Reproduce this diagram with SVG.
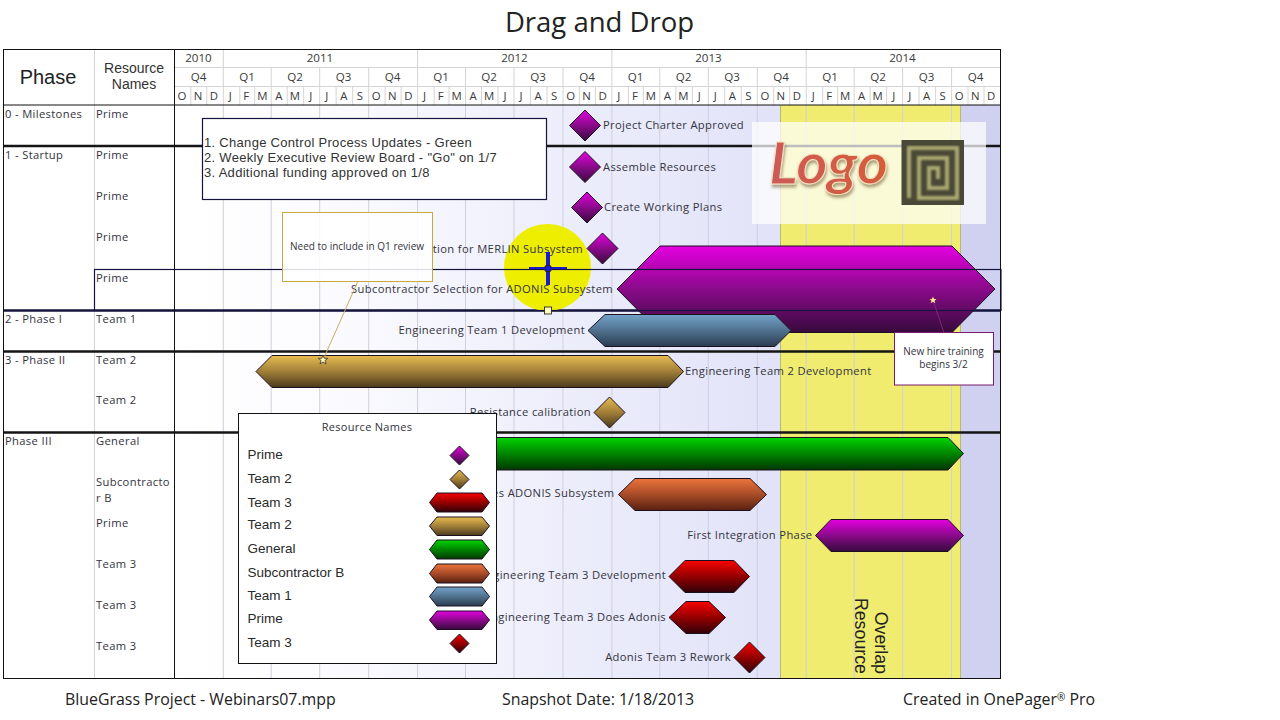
<svg xmlns="http://www.w3.org/2000/svg" width="1280" height="720" viewBox="0 0 1280 720">
<style>
text{font-family:"Open Sans","Noto Sans","Liberation Sans",sans-serif;fill:#333340}
.t{font-size:11.2px;letter-spacing:.35px}
.h{font-size:11.6px;text-anchor:middle;fill:#3a3a3a}
.m{font-size:11.4px;text-anchor:middle;fill:#3a3a3a}
.e{text-anchor:end}
.a{font-family:"Liberation Sans",Arial,sans-serif;fill:#222}
.f{font-size:15.9px;fill:#222}
.lg{font-family:"Liberation Sans",Arial,sans-serif;font-size:13.5px;fill:#2a2a2a}
.n{font-family:"Liberation Sans",Arial,sans-serif;font-size:13px;letter-spacing:.3px;fill:#333}
.s{stroke:#1c1020;stroke-width:1}
.grid{stroke:#cfcfdc;stroke-width:1;fill:none}
.head{stroke:#d4d4d4;stroke-width:1;fill:none}
.rule{stroke:#151515;stroke-width:2.6}
</style>
<defs>
<linearGradient id="bg" x1="0" x2="1" y1="0" y2="0"><stop offset="0" stop-color="#fff"/><stop offset=".17" stop-color="#fcfcff"/><stop offset=".55" stop-color="#e9eafa"/><stop offset="1" stop-color="#d6d8f5"/></linearGradient>
<linearGradient id="pu" x1="0" x2="0" y1="0" y2="1"><stop offset="0" stop-color="#e400e0"/><stop offset=".5" stop-color="#8a0a8a"/><stop offset="1" stop-color="#360a3c"/></linearGradient>
<linearGradient id="bl" x1="0" x2="0" y1="0" y2="1"><stop offset="0" stop-color="#72a2c8"/><stop offset=".5" stop-color="#50718e"/><stop offset="1" stop-color="#2a3c50"/></linearGradient>
<linearGradient id="go" x1="0" x2="0" y1="0" y2="1"><stop offset="0" stop-color="#e8bc50"/><stop offset=".5" stop-color="#a07e38"/><stop offset="1" stop-color="#4a3a1c"/></linearGradient>
<linearGradient id="gr" x1="0" x2="0" y1="0" y2="1"><stop offset="0" stop-color="#00d400"/><stop offset=".5" stop-color="#008400"/><stop offset="1" stop-color="#003800"/></linearGradient>
<linearGradient id="or" x1="0" x2="0" y1="0" y2="1"><stop offset="0" stop-color="#ec743c"/><stop offset=".5" stop-color="#a84c28"/><stop offset="1" stop-color="#582010"/></linearGradient>
<linearGradient id="re" x1="0" x2="0" y1="0" y2="1"><stop offset="0" stop-color="#f80000"/><stop offset=".5" stop-color="#940000"/><stop offset="1" stop-color="#300008"/></linearGradient>
<linearGradient id="lo" x1="0" x2="1" y1="0" y2="0"><stop offset="0" stop-color="#cc5a5a"/><stop offset="1" stop-color="#d65c38"/></linearGradient>
<filter id="sh" x="-20%" y="-20%" width="140%" height="150%"><feDropShadow dx="1" dy="3" stdDeviation="1.6" flood-color="#6a5a30" flood-opacity=".55"/></filter>
<filter id="bu" x="-5%" y="-5%" width="110%" height="110%"><feGaussianBlur stdDeviation="1.3"/></filter>
</defs>
<rect width="1280" height="720" fill="#fff"/>
<text x="599.500" y="32" font-size="27.500" text-anchor="middle" style="fill:#222" id="title">Drag and Drop</text>

<g id="chart-background">
<rect x="175" y="105" width="825" height="573" fill="url(#bg)"/>
<rect x="780.500" y="105" width="180" height="573" fill="#f0ec70"/>
<rect x="960.500" y="105" width="40" height="573" fill="#d0d1f1"/>
<path d="M780.500 105V678M960.500 105V678" stroke="#b8b878" fill="none"/>
<path class="grid" d="M223.300 105V678M271.200 105V678M319.700 105V678M368.700 105V678M417.600 105V678M465.500 105V678M514 105V678M563 105V678M611.900 105V678M659.800 105V678M708.300 105V678M757.300 105V678M806.200 105V678M854.100 105V678M902.600 105V678M951.600 105V678"/>
</g>

<g id="rows">
<path class="head" d="M94.500 49V678"/>
<path class="rule" d="M4 146H1001M4 351.500H1001M4 432.500H1001"/>
<path d="M4 310.500H1001" stroke="#14143c" stroke-width="2.600"/>
</g>

<g id="header">
<path class="head" d="M174.500 67.500H1000M174.500 86.500H1000M223.300 49V105M417.600 49V105M611.900 49V105M806.200 49V105"/>
<path class="head" d="M271.200 67V105M319.700 67V105M368.700 67V105M465.500 67V105M514 67V105M563 67V105M659.800 67V105M708.300 67V105M757.300 67V105M854.100 67V105M902.600 67V105M951.600 67V105"/>
<path class="head" d="M190.800 86V105M206.800 86V105M239.800 86V105M254.700 86V105M287.200 86V105M303.700 86V105M336.100 86V105M352.700 86V105M385.100 86V105M401.100 86V105M434.100 86V105M449 86V105M481.500 86V105M498 86V105M530.400 86V105M547 86V105M579.400 86V105M595.400 86V105M628.400 86V105M643.300 86V105M675.800 86V105M692.300 86V105M724.700 86V105M741.300 86V105M773.700 86V105M789.700 86V105M822.700 86V105M837.600 86V105M870.100 86V105M886.600 86V105M919 86V105M935.600 86V105M968 86V105M984 86V105"/>
<text class="a" x="48" y="84" font-size="20" text-anchor="middle">Phase</text>
<text class="a" x="134" y="73" font-size="14" text-anchor="middle" style="fill:#333">Resource</text>
<text class="a" x="134" y="88.500" font-size="14" text-anchor="middle" style="fill:#333">Names</text>
<text class="h" x="198.500" y="62">2010</text><text class="h" x="320" y="62">2011</text><text class="h" x="514.500" y="62">2012</text><text class="h" x="708.500" y="62">2013</text><text class="h" x="902.500" y="62">2014</text>
<text class="h" x="198.500" y="81">Q4</text><text class="h" x="247" y="81">Q1</text><text class="h" x="295" y="81">Q2</text><text class="h" x="343.500" y="81">Q3</text><text class="h" x="392.500" y="81">Q4</text>
<text class="h" x="441" y="81">Q1</text><text class="h" x="489" y="81">Q2</text><text class="h" x="538" y="81">Q3</text><text class="h" x="587" y="81">Q4</text>
<text class="h" x="635.500" y="81">Q1</text><text class="h" x="683.500" y="81">Q2</text><text class="h" x="732" y="81">Q3</text><text class="h" x="781" y="81">Q4</text>
<text class="h" x="830" y="81">Q1</text><text class="h" x="878" y="81">Q2</text><text class="h" x="926.500" y="81">Q3</text><text class="h" x="975.500" y="81">Q4</text>
<text class="m" x="182" y="100">O</text><text class="m" x="198" y="100">N</text><text class="m" x="214" y="100">D</text>
<text class="m" x="230.300" y="100">J</text><text class="m" x="246.300" y="100">F</text><text class="m" x="262.300" y="100">M</text><text class="m" x="278.800" y="100">A</text><text class="m" x="294.800" y="100">M</text><text class="m" x="310.800" y="100">J</text><text class="m" x="326.800" y="100">J</text><text class="m" x="343.800" y="100">A</text><text class="m" x="359.800" y="100">S</text><text class="m" x="376.300" y="100">O</text><text class="m" x="392.300" y="100">N</text><text class="m" x="408.300" y="100">D</text>
<text class="m" x="424.600" y="100">J</text><text class="m" x="440.600" y="100">F</text><text class="m" x="456.600" y="100">M</text><text class="m" x="473.100" y="100">A</text><text class="m" x="489.100" y="100">M</text><text class="m" x="505.100" y="100">J</text><text class="m" x="521.100" y="100">J</text><text class="m" x="538.100" y="100">A</text><text class="m" x="554.100" y="100">S</text><text class="m" x="570.600" y="100">O</text><text class="m" x="586.600" y="100">N</text><text class="m" x="602.600" y="100">D</text>
<text class="m" x="618.900" y="100">J</text><text class="m" x="634.900" y="100">F</text><text class="m" x="650.900" y="100">M</text><text class="m" x="667.400" y="100">A</text><text class="m" x="683.400" y="100">M</text><text class="m" x="699.400" y="100">J</text><text class="m" x="715.400" y="100">J</text><text class="m" x="732.400" y="100">A</text><text class="m" x="748.400" y="100">S</text><text class="m" x="764.900" y="100">O</text><text class="m" x="780.900" y="100">N</text><text class="m" x="796.900" y="100">D</text>
<text class="m" x="813.200" y="100">J</text><text class="m" x="829.200" y="100">F</text><text class="m" x="845.200" y="100">M</text><text class="m" x="861.700" y="100">A</text><text class="m" x="877.700" y="100">M</text><text class="m" x="893.700" y="100">J</text><text class="m" x="909.700" y="100">J</text><text class="m" x="926.700" y="100">A</text><text class="m" x="942.700" y="100">S</text><text class="m" x="959.200" y="100">O</text><text class="m" x="975.200" y="100">N</text><text class="m" x="991.200" y="100">D</text>
</g>

<g id="phase-labels">
<text class="t" x="5" y="118">0 - Milestones</text><text class="t" x="5" y="159">1 - Startup</text><text class="t" x="5" y="323">2 - Phase I</text><text class="t" x="5" y="364">3 - Phase II</text><text class="t" x="5" y="445">Phase III</text>
</g>
<g id="resource-labels">
<text class="t" x="96" y="118">Prime</text><text class="t" x="96" y="159">Prime</text><text class="t" x="96" y="200">Prime</text><text class="t" x="96" y="241">Prime</text><text class="t" x="96" y="282">Prime</text><text class="t" x="96" y="323">Team 1</text><text class="t" x="96" y="364">Team 2</text><text class="t" x="96" y="404">Team 2</text><text class="t" x="96" y="445">General</text><text class="t" x="96" y="486">Subcontracto</text><text class="t" x="96" y="502">r B</text><text class="t" x="96" y="527">Prime</text><text class="t" x="96" y="568">Team 3</text><text class="t" x="96" y="609">Team 3</text><text class="t" x="96" y="650">Team 3</text>
</g>

<circle id="highlight" cx="547.500" cy="267.500" r="43.500" fill="#eeee00"/>

<g id="task-startup-adonis"><path class="s" fill="url(#pu)" d="M660 246H952L995 289L952 332.500H660L617 289Z"/><text class="t e" x="613" y="293">Subcontractor Selection for ADONIS Subsystem</text></g>
<g id="ms-charter"><path class="s" fill="url(#pu)" d="M585 110L600.500 125.500L585 141L569.500 125.500Z"/><text class="t" x="603" y="129">Project Charter Approved</text></g>
<g id="ms-assemble"><path class="s" fill="url(#pu)" d="M585 151.500L600.500 167L585 182.500L569.500 167Z"/><text class="t" x="603" y="171">Assemble Resources</text></g>
<g id="ms-plans"><path class="s" fill="url(#pu)" d="M587 192L602.500 207.500L587 223L571.500 207.500Z"/><text class="t" x="604" y="211">Create Working Plans</text></g>
<g id="ms-merlin"><path class="s" fill="url(#pu)" d="M602.500 233L618 248.500L602.500 264L587 248.500Z"/><text class="t e" x="583" y="253">tion for MERLIN Subsystem</text></g>
<g id="task-team1"><path class="s" fill="url(#bl)" d="M605 314.500H775L791 330.500L775 346.500H605L588 330.500Z"/><text class="t e" x="585" y="334">Engineering Team 1 Development</text></g>
<g id="task-team2"><path class="s" fill="url(#go)" d="M272 355.500H668L683.500 371.500L668 387.500H272L256 371.500Z"/><text class="t" x="685" y="375">Engineering Team 2 Development</text></g>
<g id="ms-resistance"><path class="s" fill="url(#go)" d="M609.500 397L625 412.500L609.500 428L594 412.500Z"/><text class="t e" x="591" y="416">Resistance calibration</text></g>
<g id="task-general"><path class="s" fill="url(#gr)" d="M450 437.500H948L963.500 453.500L948 470H450Z"/></g>
<g id="task-subb"><path class="s" fill="url(#or)" d="M635 478.500H750L766.500 494.500L750 510.500H635L618.500 494.500Z"/><text class="t e" x="614.500" y="497">es ADONIS Subsystem</text></g>
<g id="task-integration"><path class="s" fill="url(#pu)" d="M831 519.500H948L963.500 535.500L948 551.500H831L815.500 535.500Z"/><text class="t e" x="812.500" y="539">First Integration Phase</text></g>
<g id="task-team3-dev"><path class="s" fill="url(#re)" d="M685 560.500H734L749.500 576.500L734 592.500H685L669 576.500Z"/><text class="t e" x="666" y="579">ngineering Team 3 Development</text></g>
<g id="task-team3-adonis"><path class="s" fill="url(#re)" d="M686 601.500H709L725.500 617.500L709 633.500H686L669 617.500Z"/><text class="t e" x="666" y="621">ngineering Team 3 Does Adonis</text></g>
<g id="ms-rework"><path class="s" fill="url(#re)" d="M749.500 642L765 657.500L749.500 673L734 657.500Z"/><text class="t e" x="731" y="661">Adonis Team 3 Rework</text></g>

<g id="overlap-label" font-size="17.800">
<text class="a e" transform="translate(875 674) rotate(90)" style="fill:#222">Overlap</text>
<text class="a e" transform="translate(855 674) rotate(90)" style="fill:#222">Resource</text>
</g>

<g id="selected-row"><rect x="94.500" y="269.500" width="906.500" height="41" fill="none" stroke="#14143c" stroke-width="1.200"/></g>

<g id="frame">
<rect x="3.500" y="49.500" width="997" height="629" fill="none" stroke="#111"/>
<path d="M174.500 49.500V678.500M3.500 105H1000.500" stroke="#111" fill="none"/>
</g>

<g id="logo">
<rect x="752" y="122" width="234" height="102" fill="#fff" fill-opacity=".72"/>
<text x="769" y="184" font-size="58" font-weight="700" font-style="italic" textLength="119" lengthAdjust="spacingAndGlyphs" style="fill:url(#lo);stroke:#f6e4c0;stroke-width:1;font-family:Lato,'Open Sans',sans-serif" filter="url(#sh)">Logo</text>
<rect x="901.500" y="140" width="62.500" height="65" fill="#4a4836"/>
<path filter="url(#bu)" d="M909 198V148H957V198H919V158H947V188H929V168H938V179" fill="none" stroke="#a8a870" stroke-width="4"/>
</g>

<g id="connectors">
<path d="M358 281L323 360" fill="none" stroke="#c9ad6a" stroke-width="1"/>
<path d="M933 300L944 333" fill="none" stroke="#7a2a78" stroke-width="1"/>
</g>

<g id="note-status"><rect x="202.500" y="118.500" width="344" height="81" fill="#fff" stroke="#14143c" stroke-width="1.200"/>
<text class="n" x="204" y="147">1. Change Control Process Updates - Green</text>
<text class="n" x="204" y="162">2. Weekly Executive Review Board - "Go" on 1/7</text>
<text class="n" x="204" y="177">3. Additional funding approved on 1/8</text></g>
<g id="note-review"><rect x="282.500" y="212.500" width="150" height="69" fill="#fff" fill-opacity=".85" stroke="#c8a840"/>
<text x="357" y="250" font-size="10" text-anchor="middle">Need to include in Q1 review</text></g>
<g id="note-hire"><rect x="894.500" y="332.500" width="99" height="52.500" fill="#fff" stroke="#7a1a6a"/>
<text x="943.500" y="355" font-size="10" text-anchor="middle">New hire training</text><text x="943.500" y="368" font-size="10" text-anchor="middle">begins 3/2</text></g>

<g id="stars">
<path d="M933 296.500L934 299H936.500L934.500 300.700L935.300 303.300L933 301.800L930.700 303.300L931.500 300.700L929.500 299H932Z" fill="#ffee88"/>
<path d="M323 355L324.300 358.300H327.800L325 360.500L326 364L323 362L320 364L321 360.500L318.200 358.300H321.700Z" fill="#fff6b0" stroke="#333" stroke-width=".8"/>
</g>

<g id="cursor">
<rect x="544.500" y="307" width="7" height="7" fill="#fffbc0" stroke="#111" stroke-width=".8"/>
<path d="M529 268H567" stroke="#1a1ad0" stroke-width="2"/><path d="M548 252V285" stroke="#1a1ad0" stroke-width="4"/><circle cx="548" cy="268.500" r="3.500" fill="#1a1ad0" stroke="#223"/>
</g>

<g id="legend">
<rect x="238.500" y="413.500" width="258" height="250" fill="#fff" stroke="#111"/>
<text x="367" y="431" font-size="11" text-anchor="middle" letter-spacing=".3">Resource Names</text>
<text class="lg" x="247.500" y="459">Prime</text><text class="lg" x="247.500" y="483">Team 2</text><text class="lg" x="247.500" y="507">Team 3</text><text class="lg" x="247.500" y="529">Team 2</text><text class="lg" x="247.500" y="553">General</text><text class="lg" x="247.500" y="577">Subcontractor B</text><text class="lg" x="247.500" y="600">Team 1</text><text class="lg" x="247.500" y="623">Prime</text><text class="lg" x="247.500" y="647">Team 3</text>
<path class="s" fill="url(#pu)" d="M459.500 446L469 455.500L459.500 465L450 455.500Z"/>
<path class="s" fill="url(#go)" d="M459.500 470L469 479.500L459.500 489L450 479.500Z"/>
<path class="s" fill="url(#re)" d="M437 493H482L489.500 502.500L482 512H437L429.500 502.500Z"/>
<path class="s" fill="url(#go)" d="M437 517H482L489.500 526L482 535.500H437L429.500 526Z"/>
<path class="s" fill="url(#gr)" d="M437 540H482L489.500 549.500L482 559H437L429.500 549.500Z"/>
<path class="s" fill="url(#or)" d="M437 564H482L489.500 573.500L482 583H437L429.500 573.500Z"/>
<path class="s" fill="url(#bl)" d="M437 587H482L489.500 596.500L482 606H437L429.500 596.500Z"/>
<path class="s" fill="url(#pu)" d="M437 611H482L489.500 620L482 629.500H437L429.500 620Z"/>
<path class="s" fill="url(#re)" d="M459.500 634L469 643.500L459.500 653L450 643.500Z"/>
</g>

<g id="footer">
<text class="f" x="65" y="705">BlueGrass Project - Webinars07.mpp</text>
<text class="f" x="502" y="705">Snapshot Date: 1/18/2013</text>
<text class="f" x="903" y="705">Created in OnePager<tspan font-size="10" dy="-4">®</tspan><tspan dy="4"> Pro</tspan></text>
</g>
</svg>
